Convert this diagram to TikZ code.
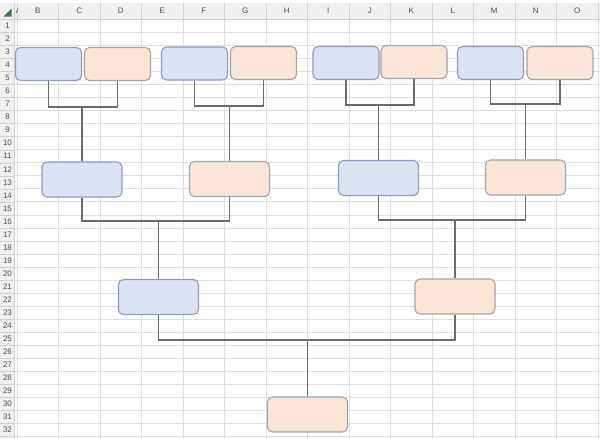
\documentclass[tikz,border=0pt]{standalone}
\usepackage{fontspec}
\setmainfont{Liberation Sans}
\usepackage{tikz}
\usetikzlibrary{positioning}
\usepackage{xcolor}
\definecolor{cellblue}{HTML}{DAE3F3}
\definecolor{blueedge}{HTML}{8E9AC0}
\definecolor{cellpeach}{HTML}{FBE5D6}
\definecolor{peachedge}{HTML}{A3A3AB}
\definecolor{linkgray}{HTML}{6C6C6C}
\definecolor{gridgray}{HTML}{DEDEDE}
\definecolor{headbg}{HTML}{F0F0F0}
\definecolor{headline}{HTML}{D0D0D0}
\definecolor{headtext}{HTML}{505050}
\definecolor{cornergreen}{HTML}{3B7A44}

\begin{document}
\begin{tikzpicture}[x=1pt, y=-1pt,
    bluebox/.style={rectangle, rounded corners=5pt, draw=blueedge, fill=cellblue, line width=1.1pt},
    peachbox/.style={rectangle, rounded corners=5pt, draw=peachedge, fill=cellpeach, line width=1.1pt},
    leafsize/.style={minimum width=66pt, minimum height=33pt},
    tiersize/.style={minimum width=80pt, minimum height=35pt},
    link/.style={draw=linkgray, line width=1.2pt},
    gridline/.style={draw=gridgray, line width=0.6pt},
    headlabel/.style={font=\fontsize{8}{9}\selectfont, text=headtext, inner sep=0pt}]
    \useasboundingbox (0,0) rectangle (600,439);
    \fill[white] (0,0) rectangle (600,439);
    % sheet grid and headers
    \fill[headbg] (0,3) rectangle (600,19.5);
    \fill[headbg] (0,3) rectangle (14,439);
    \foreach \k in {0,...,33}
        \draw[gridline] (14,19.5+\k*13.02) -- (600,19.5+\k*13.02);
    \foreach \k in {0,...,14}
        \draw[gridline] (17+\k*41.5,19.5) -- (17+\k*41.5,439);
    \foreach \k in {1,...,33}
        \draw[headline] (0,19.5+\k*13.02) -- (14,19.5+\k*13.02);
    \foreach \k in {0,...,14}
        \draw[headline] (17+\k*41.5,3) -- (17+\k*41.5,19.5);
    \draw[headline] (14,3) -- (14,439);
    \draw[headline] (0,19.5) -- (600,19.5);
    \fill[cornergreen] (3.5,16.5) -- (11.5,16.5) -- (11.5,8.5) -- cycle;
    \begin{scope}
        \clip (14,3) rectangle (17,19.5);
        \node[headlabel] (colA) at (18.5,11) {A};
    \end{scope}
    \foreach \c [count=\i] in {B,...,O}
        \node[headlabel] (col\c) at (17+\i*41.5-20.75,11) {\c};
    \foreach \r in {1,...,32}
        \node[headlabel] (row\r) at (7.5,19.5+\r*13.02-6.51) {\r};

    % first round
    \node[bluebox, leafsize] (a1) at (48.5,64) {};
    \node[peachbox, leafsize] (a2) at (117.5,64) {};
    \node[bluebox, leafsize] (a3) at (194.5,63.5) {};
    \node[peachbox, leafsize] (a4) at (263.5,63) {};
    \node[bluebox, leafsize] (a5) at (346,63) {};
    \node[peachbox, leafsize] (a6) at (414,62) {};
    \node[bluebox, leafsize] (a7) at (490.5,63) {};
    \node[peachbox, leafsize] (a8) at (560,63) {};
    % second round
    \node[bluebox, tiersize] (b1) at (82,179.5) {};
    \node[peachbox, tiersize] (b2) at (229.5,179) {};
    \node[bluebox, tiersize] (b3) at (378.5,178) {};
    \node[peachbox, tiersize] (b4) at (525.5,177.5) {};
    % semi final and final
    \node[bluebox, tiersize] (c1) at (158.5,297) {};
    \node[peachbox, tiersize] (c2) at (455,296.5) {};
    \node[peachbox, tiersize] (d) at (307.5,414.5) {};

    \coordinate (j1) at (82,107);
    \coordinate (j2) at (229.5,106);
    \coordinate (j3) at (378.5,105);
    \coordinate (j4) at (525.5,104);
    \coordinate (k1) at (158.5,221);
    \coordinate (k2) at (455,220);
    \coordinate (m) at (307.5,340);

    \draw[link] (a1.south) |- (j1) -| (a2.south);
    \draw[link] (a3.south) |- (j2) -| (a4.south);
    \draw[link] (a5.south) |- (j3) -| (a6.south);
    \draw[link] (a7.south) |- (j4) -| (a8.south);
    \draw[link] (j1) -- (b1.north);
    \draw[link] (j2) -- (b2.north);
    \draw[link] (j3) -- (b3.north);
    \draw[link] (j4) -- (b4.north);
    \draw[link] (b1.south) |- (k1) -| (b2.south);
    \draw[link] (b3.south) |- (k2) -| (b4.south);
    \draw[link] (k1) -- (c1.north);
    \draw[link] (k2) -- (c2.north);
    \draw[link] (c1.south) |- (m) -| (c2.south);
    \draw[link] (m) -- (d.north);
\end{tikzpicture}
\end{document}
